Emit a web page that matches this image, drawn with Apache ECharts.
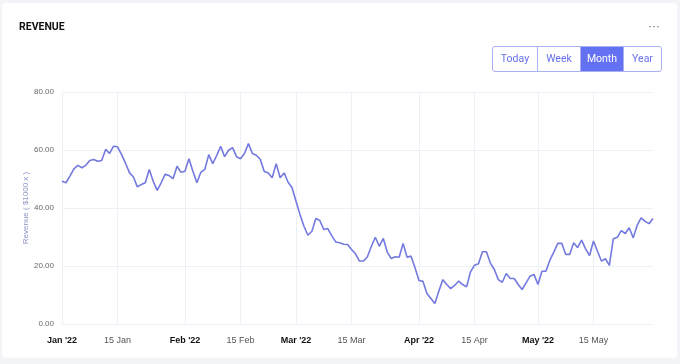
<!DOCTYPE html>
<html>
<head>
<meta charset="utf-8">
<script src="https://cdn.jsdelivr.net/npm/echarts@6/dist/echarts.min.js"></script>
<style>
  html,body{margin:0;padding:0;width:680px;height:364px;background:#f3f4f8;overflow:hidden;font-family:"Liberation Sans",Arial,Helvetica,sans-serif;}
  #card{position:absolute;left:2px;top:3px;width:675px;height:355px;background:#fff;border-radius:4px;}
  #chart{position:absolute;left:0;top:0;width:680px;height:364px;}
  #title{position:absolute;left:19px;top:20px;font-family:Roboto,sans-serif;font-size:10.5px;font-weight:bold;color:#111;}
  #dots{position:absolute;left:648px;top:19px;font-size:12px;color:#666;}
  #btns{position:absolute;left:492px;top:46px;height:26px;display:flex;border:1px solid #a9b0f2;border-radius:3px;overflow:hidden;box-sizing:border-box;}
  #btns div{font-family:Roboto,sans-serif;font-size:10.5px;color:#6770e8;line-height:24px;text-align:center;border-right:1px solid #a9b0f2;box-sizing:border-box;}
  #btns div:last-child{border-right:none;}
  #btns div.on{background:#6571f3;color:#fff;}
</style>
</head>
<body>
<div id="card"></div>
<div id="chart"></div>
<div id="title">REVENUE</div>
<div id="dots">···</div>
<div id="btns"><div style="width:45px">Today</div><div style="width:43px">Week</div><div class="on" style="width:43px">Month</div><div style="width:37px">Year</div></div>
<script>
const startDate = [2022, 0, 1]; // Jan 1 2022, one value per day
const revenue = [
  49.2,48.7,51.0,53.5,54.7,53.9,54.7,56.4,56.7,56.1,
  56.4,60.2,58.8,61.3,61.1,58.5,55.5,52.2,50.7,47.3,
  48.1,48.7,53.3,49.2,46.1,48.7,51.6,51.2,50.1,54.4,
  52.3,52.7,57.0,52.7,48.7,52.3,53.3,58.4,55.3,58.1,
  61.3,57.7,59.9,60.8,57.7,57.0,58.8,62.2,58.8,58.2,
  56.7,52.6,52.1,50.4,55.3,50.4,52.1,48.9,47.0,42.3,
  37.8,33.7,30.6,32.0,36.4,35.7,32.6,32.9,30.5,28.3,
  28.0,27.5,27.4,25.7,24.2,21.7,21.7,23.2,26.8,29.9,
  26.8,29.5,24.8,22.6,23.2,23.0,27.8,23.0,23.4,19.4,
  15.0,14.7,10.5,8.8,7.1,11.3,15.3,13.6,12.2,13.3,
  14.8,13.6,12.8,18.0,20.3,20.8,24.9,24.9,21.0,18.8,
  15.3,14.4,17.4,15.7,15.7,13.6,11.9,14.2,16.5,17.1,
  13.6,18.2,18.2,22.0,24.8,27.8,27.8,24.0,24.0,28.0,
  26.3,28.9,25.9,23.6,28.6,25.1,21.7,22.5,20.2,29.4,
  29.9,32.2,31.2,33.2,29.7,34.0,36.6,35.4,34.6,36.4
];
const tickDays = [1, 15]; // labelled days of each month
const yTicks = [0, 20, 40, 60, 80];
const monthNames = ['Jan','Feb','Mar','Apr','May','Jun','Jul','Aug','Sep','Oct','Nov','Dec'];

function pad(n){ return (n < 10 ? '0' : '') + n; }
const dates = revenue.map((v, i) => {
  const d = new Date(startDate[0], startDate[1], startDate[2] + i);
  return d.getFullYear() + '-' + pad(d.getMonth()+1) + '-' + pad(d.getDate());
});
function isTick(idx, val){
  const day = Number(String(val).slice(8, 10));
  return tickDays.indexOf(day) >= 0;
}

const chart = echarts.init(document.getElementById('chart'), null, {renderer: 'canvas'});
chart.setOption({
  animation: false,
  grid: {left: 62, right: 27, top: 92, bottom: 40, containLabel: false},
  xAxis: {
    type: 'category',
    data: dates,
    boundaryGap: false,
    axisLine: {show: false},
    axisTick: {show: false, interval: isTick},
    splitLine: {show: true, interval: isTick, lineStyle: {color: '#eef0f8', width: 1}},
    axisLabel: {
      interval: isTick,
      margin: 12,
      fontSize: 9,
      color: '#555',
      fontFamily: 'Liberation Sans',
      formatter: function (val) {
        const p = val.split('-').map(Number);
        if (p[2] === 1) return '{m|' + monthNames[p[1]-1] + " '" + String(p[0]).slice(2) + '}';
        return p[2] + ' ' + monthNames[p[1]-1];
      },
      rich: {m: {fontWeight: 'bold', color: '#111', fontSize: 9, fontFamily: 'Liberation Sans'}}
    }
  },
  yAxis: {
    type: 'value',
    min: yTicks[0], max: yTicks[yTicks.length-1], interval: 20,
    name: 'Revenue ( $1000 x )',
    nameLocation: 'middle',
    nameGap: 32,
    nameMoveOverlap: false,
    nameTextStyle: {color: '#8d95c8', fontSize: 8, fontFamily: 'Liberation Sans'},
    axisLine: {show: false},
    axisTick: {show: false},
    splitLine: {lineStyle: {color: '#eef0f8', width: 1}},
    axisLabel: {fontSize: 8, color: '#666', margin: 8, fontFamily: 'Liberation Sans', formatter: v => v.toFixed(2)}
  },
  series: [{
    type: 'line',
    data: revenue,
    showSymbol: false,
    lineStyle: {color: '#7479df', width: 1.6},
    itemStyle: {color: '#7479df'}
  }]
});
</script>
</body>
</html>
